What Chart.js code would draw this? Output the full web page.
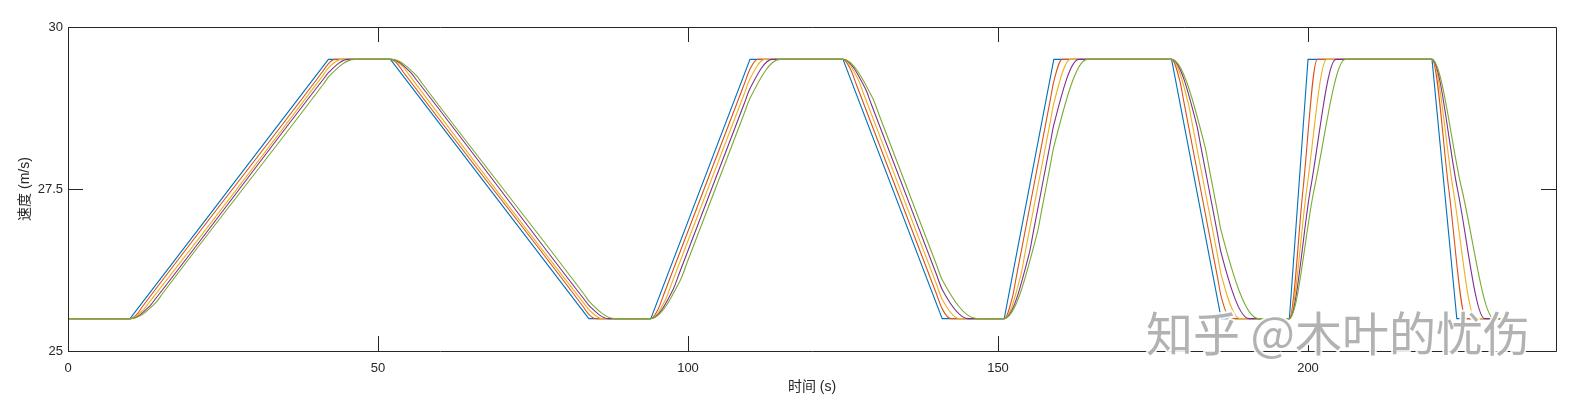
<!DOCTYPE html>
<html>
<head>
<meta charset="utf-8">
<script src="https://cdn.jsdelivr.net/npm/chart.js@4.4.1/dist/chart.umd.min.js"></script>
<style>
  html, body { margin: 0; padding: 0; background: #fff; }
  #speed-chart { display: block; }
</style>
</head>
<body>
<canvas id="speed-chart" width="1573" height="400"></canvas>
<script>
// lead vehicle speed profile, [time (s), speed (m/s)]
const leader = [[0,25.5],[10,25.5],[42,29.5],[52,29.5],[84,25.5],[94,25.5],[110,29.5],[125,29.5],
    [141,25.5],[151,25.5],[159,29.5],[178,29.5],[186,25.5],[197,25.5],[200,29.5],[220,29.5],[224,25.5],[231,25.5]];

// followers (corner points of the smoothed curves)
const follower1 = [[0,25.5],
    [10.05,25.5],[11.05,25.56],[12.05,25.69],[41.05,29.31],[42.05,29.44],[43.05,29.5],
    [52.05,29.5],[53.05,29.44],[54.05,29.31],[83.05,25.69],[84.05,25.56],[85.05,25.5],
    [94,25.5],[95.2,25.65],[96.2,25.9],[109,29.1],[110,29.35],[111.2,29.5],
    [125,29.5],[126.2,29.35],[127.2,29.1],[140,25.9],[141,25.65],[142.4,25.5],
    [151,25.5],[152.35,25.84],[152.95,26.14],[158.4,28.86],[159,29.16],[160.35,29.5],
    [178,29.5],[179.35,29.16],[179.95,28.86],[185.4,26.14],[186,25.84],[187.5,25.5],
    [197,25.5],[199.2,27.5],[201.5,29.5],[220,29.5],[222.7,27.5],[225.5,25.5],[231,25.5]];

const follower2 = [[0,25.5],
    [10.1,25.5],[12.1,25.63],[13.1,25.75],[41.1,29.25],[42.1,29.38],[44.1,29.5],
    [52.1,29.5],[54.1,29.38],[55.1,29.25],[83.1,25.75],[84.1,25.63],[86.1,25.5],
    [94,25.5],[96.4,25.8],[97.4,26.05],[109,28.95],[110,29.2],[112.4,29.5],
    [125,29.5],[127.4,29.2],[128.4,28.95],[140,26.05],[141,25.8],[143.8,25.5],
    [151,25.5],[153.7,26.18],[154.3,26.48],[158.4,28.52],[159,28.82],[161.7,29.5],
    [178,29.5],[180.7,28.82],[181.3,28.52],[185.4,26.48],[186,26.18],[189,25.5],
    [197,25.5],[199.8,27.5],[203,29.5],[220,29.5],[223.4,27.5],[227,25.5],[231,25.5]];

const follower3 = [[0,25.5],
    [10.15,25.5],[13.15,25.69],[14.15,25.81],[41.15,29.19],[42.15,29.31],[45.15,29.5],
    [52.15,29.5],[55.15,29.31],[56.15,29.19],[83.15,25.81],[84.15,25.69],[87.15,25.5],
    [94,25.5],[97.6,25.95],[98.6,26.2],[109,28.8],[110,29.05],[113.6,29.5],
    [125,29.5],[128.6,29.05],[129.6,28.8],[140,26.2],[141,25.95],[145.2,25.5],
    [151,25.5],[155.05,26.51],[155.65,26.81],[158.4,28.19],[159,28.49],[163.05,29.5],
    [178,29.5],[182.05,28.49],[182.65,28.19],[185.4,26.81],[186,26.51],[190.5,25.5],
    [197,25.5],[200.4,27.5],[204.5,29.5],[220,29.5],[224.1,27.5],[228.5,25.5],[231,25.5]];

const follower4 = [[0,25.5],
    [10.2,25.5],[14.2,25.75],[15.2,25.88],[41.2,29.12],[42.2,29.25],[46.2,29.5],
    [52.2,29.5],[56.2,29.25],[57.2,29.12],[83.2,25.88],[84.2,25.75],[88.2,25.5],
    [94,25.5],[98.8,26.1],[99.8,26.35],[109,28.65],[110,28.9],[114.8,29.5],
    [125,29.5],[129.8,28.9],[130.8,28.65],[140,26.35],[141,26.1],[146.6,25.5],
    [151,25.5],[156.4,26.85],[157,27.15],[158.4,27.85],[159,28.15],[164.4,29.5],
    [178,29.5],[183.4,28.15],[184,27.85],[185.4,27.15],[186,26.85],[192,25.5],
    [197,25.5],[201,27.5],[206,29.5],[220,29.5],[224.8,27.5],[230,25.5],[231,25.5]];

const seriesData = [leader, follower1, follower2, follower3, follower4];
const seriesColors = ['#0072BD', '#D95319', '#EDB120', '#7E2F8E', '#77AC30'];

const xTitle = '时间 (s)';
const yTitle = '速度 (m/s)';
const watermark = '知乎 @木叶的忧伤';

const baseFont = "'Liberation Sans', Arial, 'Noto Sans CJK SC', sans-serif";
const axisColor = '#262626';

// matlab style box with inward ticks on all four sides
const matlabBox = {
    id: 'matlabBox',
    afterDatasetsDraw(chart) {
        const ctx = chart.ctx;
        const a = chart.chartArea;
        const x = chart.scales.x;
        const y = chart.scales.y;
        const len = 15;
        ctx.save();
        ctx.strokeStyle = axisColor;
        ctx.lineWidth = 1;
        ctx.beginPath();
        ctx.rect(Math.round(a.left) + 0.5, Math.round(a.top) + 0.5,
            Math.round(a.right - a.left), Math.round(a.bottom - a.top));
        x.ticks.forEach(t => {
            const px = Math.round(x.getPixelForValue(t.value)) + 0.5;
            ctx.moveTo(px, a.bottom); ctx.lineTo(px, a.bottom - len);
            ctx.moveTo(px, a.top); ctx.lineTo(px, a.top + len);
        });
        y.ticks.forEach(t => {
            const py = Math.round(y.getPixelForValue(t.value)) + 0.5;
            ctx.moveTo(a.left, py); ctx.lineTo(a.left + len, py);
            ctx.moveTo(a.right, py); ctx.lineTo(a.right - len, py);
        });
        ctx.stroke();
        ctx.restore();
    },
    afterDraw(chart) {
        const ctx = chart.ctx;
        ctx.save();
        ctx.font = "47px 'Noto Sans CJK SC', sans-serif";
        ctx.textBaseline = 'middle';
        ctx.lineJoin = 'round';
        ctx.strokeStyle = 'rgba(255,255,255,0.9)';
        ctx.lineWidth = 4;
        ctx.strokeText(watermark, 1146, 333);
        ctx.fillStyle = 'rgba(165,165,165,0.85)';
        ctx.fillText(watermark, 1146, 333);
        ctx.restore();
    }
};

const speedChart = new Chart(document.getElementById('speed-chart'), {
    type: 'line',
    data: {
        datasets: seriesData.map((d, i) => ({
            data: d,
            borderColor: seriesColors[i],
            borderWidth: 1.1,
            pointRadius: 0,
            fill: false,
            tension: 0,
            cubicInterpolationMode: i === 0 ? 'default' : 'monotone',
            order: seriesData.length - i
        }))
    },
    options: {
        responsive: false,
        animation: false,
        events: [],
        layout: { padding: { top: 27, right: 17, left: 0, bottom: 0 } },
        plugins: {
            legend: { display: false },
            tooltip: { enabled: false }
        },
        scales: {
            x: {
                type: 'linear',
                min: 0,
                max: 240,
                afterFit: s => { s.height = 49; },
                grid: { display: false, drawTicks: false },
                border: { display: false },
                ticks: {
                    stepSize: 50,
                    includeBounds: false,
                    maxRotation: 0,
                    padding: 10,
                    color: axisColor,
                    font: { family: baseFont, size: 13 }
                },
                title: {
                    display: true,
                    text: xTitle,
                    color: axisColor,
                    padding: { top: 0, bottom: 4 },
                    font: { family: baseFont, size: 14 }
                }
            },
            y: {
                min: 25,
                max: 30,
                afterFit: s => { s.width = 68; },
                grid: { display: false, drawTicks: false },
                border: { display: false },
                ticks: {
                    stepSize: 2.5,
                    padding: 5,
                    color: axisColor,
                    font: { family: baseFont, size: 13 }
                },
                title: {
                    display: true,
                    text: yTitle,
                    color: axisColor,
                    padding: { top: 17, bottom: 0 },
                    font: { family: baseFont, size: 14 }
                }
            }
        }
    },
    plugins: [matlabBox]
});
</script>
</body>
</html>
